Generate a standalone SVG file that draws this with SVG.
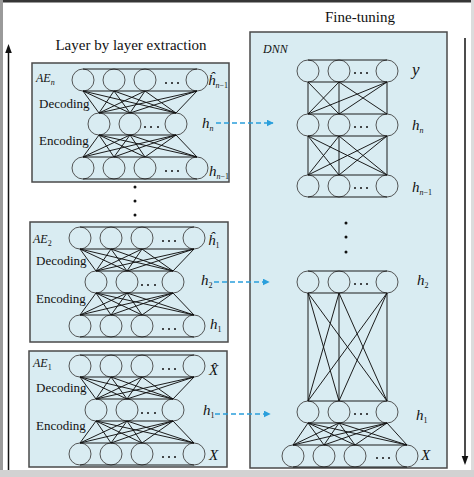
<svg xmlns="http://www.w3.org/2000/svg" xmlns:xlink="http://www.w3.org/1999/xlink" width="474" height="477" viewBox="0 0 474 477">
<style>
.box{fill:#d9ecf2;stroke:#4a4a4a;stroke-width:1.5}
.nd{fill:none;stroke:#444;stroke-width:0.9}
.ln{fill:none;stroke:#111;stroke-width:0.95}
.dot{fill:#111}
.t{font-family:"Liberation Serif",serif;fill:#111}
.ttl{font-size:15px}
.wd{font-size:13px}
.v{font-style:italic;font-size:15px}
.ae{font-style:italic;font-size:12px}
.sub{font-size:8px}
.up{font-style:normal}
.dash{fill:none;stroke:#2a9fdc;stroke-width:1.4;stroke-dasharray:5 3}
.ax{stroke:#111;stroke-width:1.5}
</style>
<defs>
<marker id="blue" viewBox="0 0 10 10" refX="9" refY="5" markerWidth="7" markerHeight="7" markerUnits="userSpaceOnUse" orient="auto"><path d="M0 0L10 5L0 10z" fill="#2a9fdc"/></marker>
<g id="aeNet">
<g class="nd">
<circle cx="0" cy="0" r="11"/><circle cx="31" cy="0" r="11"/><circle cx="62" cy="0" r="11"/><circle cx="114" cy="0" r="11"/>
<circle cx="16" cy="44" r="11"/><circle cx="47" cy="44" r="11"/><circle cx="93" cy="44" r="11"/>
<circle cx="0" cy="88" r="11"/><circle cx="31" cy="88" r="11"/><circle cx="62" cy="88" r="11"/><circle cx="114" cy="88" r="11"/>
</g>
<path class="ln" d="M0 -11H114M0 11H114M16 33H93M16 55H93M0 77H114M0 99H114
M0 11L16 33M0 11L47 33M0 11L93 33M31 11L16 33M31 11L47 33M31 11L93 33M62 11L16 33M62 11L47 33M62 11L93 33M114 11L16 33M114 11L47 33M114 11L93 33
M16 55L0 77M16 55L31 77M16 55L62 77M16 55L114 77M47 55L0 77M47 55L31 77M47 55L62 77M47 55L114 77M93 55L0 77M93 55L31 77M93 55L62 77M93 55L114 77"/>
<g class="dot"><circle cx="83" cy="3" r="1"/><circle cx="89" cy="3" r="1"/><circle cx="95" cy="3" r="1"/>
<circle cx="62" cy="47" r="1"/><circle cx="68" cy="47" r="1"/><circle cx="75" cy="47" r="1"/>
<circle cx="83" cy="91" r="1"/><circle cx="89" cy="91" r="1"/><circle cx="95" cy="91" r="1"/></g>
</g>
<g id="row3">
<g class="nd"><circle cx="308" cy="0" r="11"/><circle cx="339" cy="0" r="11"/><circle cx="387" cy="0" r="11"/></g>
<path class="ln" d="M308 -11H387M308 11H387"/>
<g class="dot"><circle cx="355" cy="2" r="1"/><circle cx="361" cy="2" r="1"/><circle cx="367" cy="2" r="1"/></g>
</g>
</defs>

<!-- frame -->
<rect x="0" y="0" width="474" height="477" fill="#ffffff"/>
<rect x="0" y="0" width="474" height="2.5" fill="#353535"/>
<rect x="0" y="0" width="3" height="477" fill="#9a9a9a"/>
<rect x="471" y="0" width="3" height="477" fill="#dcdcdc"/>
<rect x="0" y="470" width="474" height="7" fill="#d2d2d2"/>

<!-- side arrows -->
<g id="axes">
<line class="ax" x1="8.5" y1="470" x2="8.5" y2="50"/>
<polygon points="8.5,44 5.2,53 11.8,53" fill="#111"/>
<line class="ax" x1="465" y1="38" x2="465" y2="459"/>
<polygon points="465,465 461.7,456 468.3,456" fill="#111"/>
</g>

<text class="t ttl" x="131" y="50" text-anchor="middle">Layer by layer extraction</text>
<text class="t ttl" x="360" y="22" text-anchor="middle">Fine-tuning</text>

<g id="ae-n">
<rect class="box" x="32" y="63" width="197" height="119"/>
<use xlink:href="#aeNet" transform="translate(83,80)"/>
<text class="t ae" x="36" y="82">AE<tspan class="sub" dy="3">n</tspan></text>
<text class="t wd" x="39" y="108">Decoding</text>
<text class="t wd" x="39" y="145">Encoding</text>
<text class="t v" x="208" y="85">ĥ<tspan class="sub" dy="3">n<tspan class="up">−1</tspan></tspan></text>
<text class="t v" x="202" y="128">h<tspan class="sub" dy="3">n</tspan></text>
<text class="t v" x="209" y="176">h<tspan class="sub" dy="3">n<tspan class="up">−1</tspan></tspan></text>
</g>

<g id="ae-gap" class="dot"><circle cx="135" cy="187" r="1.5"/><circle cx="135" cy="201" r="1.5"/><circle cx="135" cy="215" r="1.5"/></g>

<g id="ae-2">
<rect class="box" x="30" y="222" width="198" height="120"/>
<use xlink:href="#aeNet" transform="translate(80,238)"/>
<text class="t ae" x="33" y="243">AE<tspan class="sub up" dy="3">2</tspan></text>
<text class="t wd" x="36" y="265">Decoding</text>
<text class="t wd" x="36" y="303">Encoding</text>
<text class="t v" x="208" y="245">ĥ<tspan class="sub up" dy="3">1</tspan></text>
<text class="t v" x="201" y="285">h<tspan class="sub up" dy="3">2</tspan></text>
<text class="t v" x="210" y="329">h<tspan class="sub up" dy="3">1</tspan></text>
</g>

<g id="ae-1">
<rect class="box" x="29" y="351" width="198" height="116"/>
<use xlink:href="#aeNet" transform="translate(80,366)"/>
<text class="t ae" x="33" y="367">AE<tspan class="sub up" dy="3">1</tspan></text>
<text class="t wd" x="36" y="392">Decoding</text>
<text class="t wd" x="36" y="430">Encoding</text>
<text class="t v" x="209" y="375">X̂</text>
<text class="t v" x="203" y="415">h<tspan class="sub up" dy="3">1</tspan></text>
<text class="t v" x="209" y="460">X</text>
</g>

<g id="dnn">
<rect class="box" x="250" y="32" width="197" height="436"/>
<text class="t ae" x="263" y="53">DNN</text>
<use xlink:href="#row3" transform="translate(0,71)"/>
<use xlink:href="#row3" transform="translate(0,125)"/>
<use xlink:href="#row3" transform="translate(0,186)"/>
<use xlink:href="#row3" transform="translate(0,282)"/>
<use xlink:href="#row3" transform="translate(0,412)"/>
<g class="nd"><circle cx="293" cy="456" r="11"/><circle cx="324" cy="456" r="11"/><circle cx="355" cy="456" r="11"/><circle cx="407" cy="456" r="11"/></g>
<path class="ln" d="M293 445H407M293 467H407"/>
<g class="dot"><circle cx="377" cy="458" r="1"/><circle cx="383" cy="458" r="1"/><circle cx="389" cy="458" r="1"/>
<circle cx="346" cy="223" r="1.5"/><circle cx="346" cy="237" r="1.5"/><circle cx="346" cy="252" r="1.5"/></g>
<path class="ln" d="M308 82V114M339 82V114M387 82V114M308 82L339 114M339 82L308 114M339 82L387 114M387 82L339 114M387 82L308 114
M308 136V175M339 136V175M387 136V175M308 136L339 175M308 136L387 175M339 136L308 175M339 136L387 175M387 136L308 175M387 136L339 175
M308 293V401M339 293V401M387 293V401M308 293L339 401M308 293L387 401M339 293L308 401M339 293L387 401M387 293L308 401M387 293L339 401
M308 423L293 445M308 423L324 445M308 423L355 445M308 423L407 445M339 423L293 445M339 423L324 445M339 423L355 445M339 423L407 445M387 423L293 445M387 423L324 445M387 423L355 445M387 423L407 445"/>
<text class="t v" x="412" y="75" style="font-size:17px">y</text>
<text class="t v" x="412" y="130">h<tspan class="sub" dy="3">n</tspan></text>
<text class="t v" x="412" y="192">h<tspan class="sub" dy="3">n<tspan class="up">−1</tspan></tspan></text>
<text class="t v" x="417" y="285">h<tspan class="sub up" dy="3">2</tspan></text>
<text class="t v" x="416" y="420">h<tspan class="sub up" dy="3">1</tspan></text>
<text class="t v" x="421" y="460">X</text>
</g>

<g id="connectors">
<line class="dash" x1="216" y1="123" x2="273" y2="123" marker-end="url(#blue)"/>
<line class="dash" x1="214" y1="282" x2="269" y2="282" marker-end="url(#blue)"/>
<line class="dash" x1="215" y1="414" x2="270" y2="414" marker-end="url(#blue)"/>
</g>
</svg>
